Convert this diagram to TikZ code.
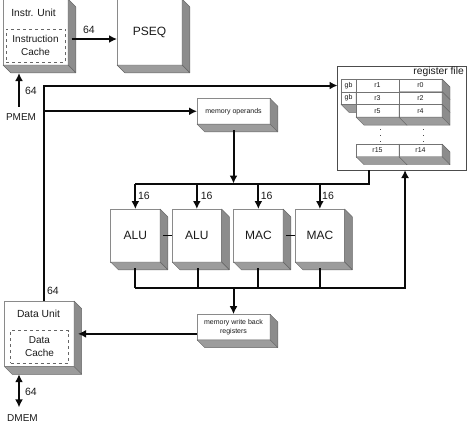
\documentclass[tikz,border=0pt]{standalone}
\usepackage{fontspec}
\setmainfont{Liberation Sans}
\usetikzlibrary{arrows.meta,positioning}
\definecolor{sidegray}{HTML}{8C8C8C}
\definecolor{bottomgray}{HTML}{9C9C9C}
\definecolor{edgegray}{HTML}{8A8A8A}
\definecolor{wireblack}{HTML}{0A0A0A}
\definecolor{textdark}{HTML}{1A1A1A}
\tikzset{
  block/.style={
    rectangle, draw=edgegray, line width=0.6pt, fill=white, outer sep=0pt, inner sep=0pt,
    align=center, text=textdark
  },
  bigblock/.style={block, minimum width=49.3pt, minimum height=53pt, font=\fontsize{12}{14}\selectfont},
  smallblock/.style={block, minimum width=73pt, minimum height=25.7pt, font=\fontsize{7}{9}\selectfont},
  cell/.style={block, draw=black!55, line width=0.4pt, minimum width=43pt, minimum height=12.7pt, font=\fontsize{7}{9}\selectfont},
  tagcell/.style={cell, minimum width=15pt},
  cachebox/.style={
    rectangle, draw=black!60, dashed, line width=0.8pt, outer sep=0pt, inner sep=0pt,
    align=center, font=\fontsize{10}{13.3}\selectfont, text=textdark
  },
  tag/.style={font=\fontsize{10.3}{12}\selectfont, text=textdark, inner sep=1pt},
  buslabel/.style={font=\fontsize{10.5}{12}\selectfont, text=textdark, inner sep=1pt},
  wire/.style={line width=2pt, draw=wireblack},
  thinwire/.style={line width=1.2pt, draw=wireblack},
  arrow/.style={-{Latex[length=8pt,width=8pt]}, line width=2pt, draw=wireblack},
  bothways/.style={{Latex[length=8pt,width=8pt]}-{Latex[length=8pt,width=8pt]}, line width=2pt, draw=wireblack},
  regdots/.style={draw=black!70, line width=1pt, dash pattern=on 1pt off 5pt},
  sideface/.style={fill=sidegray, draw=black!60, line width=0.4pt, line join=round},
  bottomface/.style={fill=bottomgray, draw=black!60, line width=0.4pt, line join=round}
}
\newcommand{\extrude}[2]{
  \draw[sideface] (#1.north east) -- ++(#2,#2) -- ([shift={(#2,#2)}]#1.south east) -- (#1.south east) -- cycle;
  \draw[bottomface] (#1.south west) -- ++(#2,#2) -- ([shift={(#2,#2)}]#1.south east) -- (#1.south east) -- cycle;
}
\begin{document}
\begin{tikzpicture}[x=1pt,y=-1pt,node distance=12.2pt]
\useasboundingbox (0,0) rectangle (474,429);
\node[block, minimum width=65pt, minimum height=66pt] (instr) at (35.5,32) {};
\extrude{instr}{7.8}
\node[block, minimum width=65pt, minimum height=66pt, font=\fontsize{12}{14}\selectfont] (pseq) at (149.5,32) {PSEQ};
\extrude{pseq}{7.8}
\node[tag] (instrname) at (33.5,13) {Instr. Unit};
\node[cachebox, minimum width=59pt, minimum height=33.5pt] (icache) at (35.5,45.7) {Instruction\\Cache};
\node[block, minimum width=69.5pt, minimum height=65.7pt] (dunit) at (39.25,333.85) {};
\extrude{dunit}{7.6}
\node[tag] (dunitname) at (38.5,313.5) {Data Unit};
\node[cachebox, minimum width=58pt, minimum height=32.3pt] (dcache) at (39.5,346.8) {Data\\Cache};
\node[smallblock] (memop) at (233.5,111.25) {memory operands};
\extrude{memop}{7.8}
\node[smallblock] (wbreg) at (233.5,327) {memory write back\\registers};
\extrude{wbreg}{7.8}
\node[bigblock] (alu1) at (135.35,235.5) {ALU};
\extrude{alu1}{7.8}
\node[bigblock, right=of alu1] (alu2) {ALU};
\extrude{alu2}{7.8}
\node[bigblock, right=of alu2] (mac1) {MAC};
\extrude{mac1}{7.8}
\node[bigblock, right=of mac1] (mac2) {MAC};
\extrude{mac2}{7.8}
\node[block, draw=black!70, minimum width=128.5pt, minimum height=104pt] (regfile) at (401.75,118) {};
\node[tag, anchor=east] (regname) at (465,71.7) {register file};
\node[tagcell] (gb1) at (348.5,85.35) {gb};
\node[tagcell, below=0pt of gb1] (gb2) {gb};
\extrude{gb2}{8}
\node[cell, anchor=west] (r1) at (gb1.east) {r1};
\node[cell, right=0pt of r1] (r0) {r0};
\extrude{r0}{8}
\node[cell, below=0pt of r1] (r3) {r3};
\node[cell, right=0pt of r3] (r2) {r2};
\extrude{r2}{8}
\node[cell, below=0pt of r3] (r5) {r5};
\extrude{r5}{8}
\node[cell, right=0pt of r5] (r4) {r4};
\extrude{r4}{8}
\node[cell] (r15) at (377.5,150.35) {r15};
\extrude{r15}{8}
\node[cell, right=0pt of r15] (r14) {r14};
\extrude{r14}{8}
\draw[regdots] ([xshift=3.2pt,yshift=-12pt]r5.south) -- ([xshift=3.2pt,yshift=1pt]r15.north);
\draw[regdots] ([xshift=3.3pt,yshift=-12pt]r4.south) -- ([xshift=3.3pt,yshift=1pt]r14.north);
\node[tag, font=\fontsize{10}{12}\selectfont] (pmem) at (21,117) {PMEM};
\node[tag, font=\fontsize{10}{12}\selectfont] (dmem) at (22.5,418) {DMEM};
\node[buslabel] (lblpseq) at (89,29.5) {64};
\node[buslabel] (lblpmem) at (31,91) {64};
\node[buslabel] (lbltrunk) at (53,291) {64};
\node[buslabel] (lbldmem) at (31,392) {64};
\node[buslabel] (lblalua) at (144,195.7) {16};
\node[buslabel] (lblalub) at (206.7,195.7) {16};
\node[buslabel] (lblmaca) at (266.7,195.7) {16};
\node[buslabel] (lblmacb) at (328,195.7) {16};
\coordinate (opbus) at (233.5,183.5);
\coordinate (wbbus) at (233.5,288);
\coordinate (trunk) at ([xshift=4.25pt]dunit.north);
\draw[arrow] ([xshift=3.5pt,yshift=-7pt]instr.east) -- ([yshift=-7pt]pseq.west);
\draw[arrow] ([xshift=-2pt,yshift=5.5pt]pmem.north) -- ([xshift=-16.5pt,yshift=-8pt]instr.south);
\draw[bothways] ([xshift=-20.25pt,yshift=-7.5pt]dunit.south) -- ([xshift=-3.5pt,yshift=6pt]dmem.north);
\draw[arrow] (trunk) |- ([yshift=32.5pt]regfile.west);
\draw[arrow] (trunk |- memop.west) -- (memop.west);
\draw[arrow] ([yshift=-6pt]memop.south) -- (opbus);
\draw[wire] ([xshift=-33.2pt]regfile.south) |- (alu1.north |- opbus);
\draw[arrow] (alu1.north |- opbus) -- (alu1.north);
\draw[arrow] (alu2.north |- opbus) -- (alu2.north);
\draw[arrow] (mac1.north |- opbus) -- (mac1.north);
\draw[arrow] (mac2.north |- opbus) -- (mac2.north);
\draw[thinwire] ([xshift=3pt]alu1.east) -- (alu2.west);
\draw[thinwire] ([xshift=3pt]mac1.east) -- (mac2.west);
\draw[wire] ([yshift=-6pt]alu1.south) -- (alu1.south |- wbbus);
\draw[wire] ([xshift=1.6pt,yshift=-6pt]alu2.south) -- ([xshift=1.6pt]alu2.south |- wbbus);
\draw[wire] ([yshift=-6pt]mac1.south) -- (mac1.south |- wbbus);
\draw[wire] ([yshift=-6pt]mac2.south) -- (mac2.south |- wbbus);
\draw[arrow] (alu1.south |- wbbus) -| ([xshift=3.3pt]regfile.south);
\draw[arrow] (wbbus) -- (wbreg.north);
\draw[arrow] (wbreg.west |- dunit.east) -- ([xshift=4pt]dunit.east);
\end{tikzpicture}
\end{document}
